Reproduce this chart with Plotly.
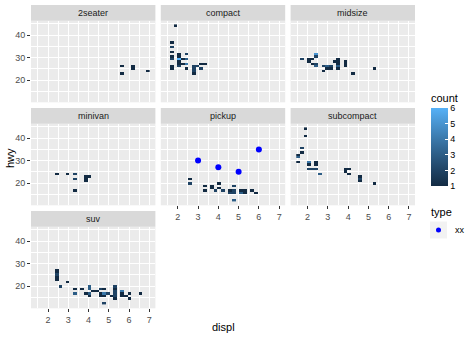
import numpy as np
import plotly.graph_objects as go

# ---------------- data (mpg: displ / hwy by class) ----------------
classes = ["2seater", "compact", "midsize", "minivan", "pickup", "subcompact", "suv"]

displ_2seater = [5.7, 5.7, 6.2, 6.2, 7.0]
hwy_2seater = [26, 23, 26, 25, 24]

displ_compact = [1.8, 1.8, 2.0, 2.0, 2.8, 2.8, 3.1,
                 1.8, 1.8, 2.0, 2.0, 2.8, 2.8, 3.1, 3.1,
                 2.4, 2.4,
                 2.5, 2.5, 2.5, 2.5,
                 2.2, 2.2, 2.4, 2.4, 3.0, 3.0, 3.3,
                 1.8, 1.8, 1.8, 1.8, 1.8,
                 2.0, 2.0, 2.0, 2.0, 2.8,
                 1.9, 2.0, 2.0, 2.0, 2.0, 2.5, 2.5, 2.8, 2.8]
hwy_compact = [29, 29, 31, 30, 26, 26, 27,
               26, 25, 28, 27, 25, 25, 25, 25,
               29, 27,
               27, 27, 25, 27,
               27, 29, 31, 31, 26, 26, 27,
               30, 33, 35, 37, 35,
               29, 26, 29, 29, 24,
               44, 29, 26, 29, 29, 29, 29, 23, 24]

displ_midsize = [2.8, 3.1, 4.2,
                 2.4, 2.4, 3.1, 3.5, 3.6,
                 2.4, 2.4, 2.4, 2.4, 2.5, 2.5, 3.3,
                 2.5, 2.5, 3.5, 3.5,
                 3.0, 3.0, 3.5,
                 3.1, 3.8, 3.8, 3.8, 5.3,
                 2.2, 2.2, 2.4, 2.4, 3.0, 3.0, 3.5,
                 1.8, 1.8, 2.0, 2.0, 2.8, 2.8, 3.6]
hwy_midsize = [24, 25, 23,
               27, 30, 26, 29, 26,
               26, 27, 30, 31, 26, 26, 28,
               31, 32, 27, 26,
               26, 25, 25,
               26, 26, 27, 28, 25,
               29, 27, 31, 31, 26, 26, 28,
               29, 29, 28, 29, 26, 26, 26]

displ_minivan = [2.4, 3.0, 3.3, 3.3, 3.3, 3.3, 3.3, 3.8, 3.8, 3.8, 4.0]
hwy_minivan = [24, 24, 22, 22, 24, 24, 17, 22, 21, 23, 23]

displ_pickup = [3.7, 3.7, 3.9, 3.9, 4.7, 4.7, 4.7, 5.2, 5.2,
                4.7, 4.7, 4.7, 4.7, 4.7, 4.7, 5.2, 5.2, 5.7, 5.9,
                4.2, 4.2, 4.6, 4.6, 4.6, 5.4, 5.4,
                2.7, 2.7, 2.7, 3.4, 3.4, 4.0, 4.0]
hwy_pickup = [19, 18, 17, 17, 19, 19, 12, 17, 15,
              16, 12, 17, 17, 16, 12, 15, 16, 17, 15,
              17, 17, 16, 16, 17, 15, 17,
              20, 20, 22, 17, 19, 18, 20]

displ_subcompact = [3.8, 3.8, 4.0, 4.0, 4.6, 4.6, 4.6, 4.6, 5.4,
                    1.6, 1.6, 1.6, 1.6, 1.6, 1.8, 1.8, 1.8, 2.0,
                    2.0, 2.0, 2.0, 2.0, 2.7, 2.7, 2.7,
                    2.2, 2.2, 2.5, 2.5,
                    1.9, 1.9, 2.0, 2.0, 2.5, 2.5]
hwy_subcompact = [26, 25, 26, 24, 21, 22, 23, 22, 20,
                  33, 32, 32, 29, 32, 34, 36, 36, 29,
                  26, 29, 28, 29, 24, 24, 24,
                  26, 26, 26, 26,
                  44, 41, 29, 26, 28, 29]

displ_suv = [5.3, 5.3, 5.3, 5.7, 6.0,
             5.3, 5.3, 5.7, 6.5,
             3.9, 4.7, 4.7, 4.7, 5.2, 5.7, 5.9,
             4.6, 5.4, 5.4,
             4.0, 4.0, 4.0, 4.0, 4.6, 5.0,
             3.0, 3.7, 4.0, 4.7, 4.7, 4.7, 5.7, 6.1,
             4.0, 4.2, 4.4, 4.6,
             5.4, 5.4, 5.4,
             4.0, 4.0, 4.6, 5.0,
             3.3, 3.3, 4.0, 5.6,
             2.5, 2.5, 2.5, 2.5, 2.5, 2.5,
             2.7, 2.7, 3.4, 3.4, 4.0, 4.7,
             4.7, 5.7]
hwy_suv = [20, 15, 20, 17, 17,
           19, 14, 15, 17,
           17, 17, 12, 17, 16, 18, 15,
           17, 17, 18,
           17, 19, 17, 19, 19, 17,
           22, 19, 20, 17, 12, 19, 18, 14,
           15, 18, 18, 15,
           17, 16, 18,
           17, 19, 19, 17,
           17, 17, 20, 18,
           25, 24, 27, 25, 26, 23,
           20, 20, 19, 17, 20, 17,
           15, 18]

# extra points layer (type = "xx") shown in the pickup facet
xx_displ = [3, 4, 5, 6]
xx_hwy = [30, 27, 25, 35]
type_labels = ["xx"]

count_ticks = [1, 2, 3, 4, 5, 6]
x_ticks = [2, 3, 4, 5, 6, 7]
y_ticks = [20, 30, 40]

displ_data = [displ_2seater, displ_compact, displ_midsize, displ_minivan,
              displ_pickup, displ_subcompact, displ_suv]
hwy_data = [hwy_2seater, hwy_compact, hwy_midsize, hwy_minivan,
            hwy_pickup, hwy_subcompact, hwy_suv]

# ---------------- binning like ggplot2 stat_bin_2d (bins = 30) ----------------
all_x = np.concatenate([np.array(d, float) for d in displ_data])
all_y = np.concatenate([np.array(d, float) for d in hwy_data])


def breaks(v, bins=30):
    lo, hi = v.min(), v.max()
    bw = (hi - lo) / bins
    origin = np.floor(lo / bw) * bw
    n = int(np.floor((hi + bw - origin) / bw + 1e-9))
    b = origin + bw * np.arange(n + 1)
    fuzz = 1e-8 * bw
    adj = b + np.r_[-fuzz, np.full(len(b) - 1, fuzz)]
    return b, adj


xb, xb_adj = breaks(all_x)
yb, yb_adj = breaks(all_y)
nx, ny = len(xb) - 1, len(yb) - 1


def bin_counts(xs, ys):
    xs = np.asarray(xs, float)
    ys = np.asarray(ys, float)
    ix = np.searchsorted(xb_adj, xs, side="left") - 1
    iy = np.searchsorted(yb_adj, ys, side="left") - 1
    ix = np.clip(ix, 0, nx - 1)
    iy = np.clip(iy, 0, ny - 1)
    z = np.zeros((ny, nx))
    for a, b in zip(ix, iy):
        z[b, a] += 1
    return z


counts = [bin_counts(x, y) for x, y in zip(displ_data, hwy_data)]
occ_x, occ_y = [], []
for z in counts:
    r, c = np.nonzero(z)
    occ_x += list(xb[c]) + list(xb[c + 1])
    occ_y += list(yb[r]) + list(yb[r + 1])
xmin, xmax = min(occ_x), max(occ_x)
ymin, ymax = min(occ_y), max(occ_y)
xr = [xmin - 0.05 * (xmax - xmin), xmax + 0.05 * (xmax - xmin)]
yr = [ymin - 0.05 * (ymax - ymin), ymax + 0.05 * (ymax - ymin)]
zmax = max(z.max() for z in counts)
zmin = min(z[z > 0].min() for z in counts)


# ---------------- ggplot default gradient (Lab interpolation) ----------------
def hex_to_lab(h):
    rgb = [int(h[i:i + 2], 16) / 255 for i in (1, 3, 5)]
    lin = [c / 12.92 if c <= 0.04045 else ((c + 0.055) / 1.055) ** 2.4 for c in rgb]
    r, g, b = lin
    X = 0.4124 * r + 0.3576 * g + 0.1805 * b
    Y = 0.2126 * r + 0.7152 * g + 0.0722 * b
    Z = 0.0193 * r + 0.1192 * g + 0.9505 * b
    f = lambda t: t ** (1 / 3) if t > 0.008856 else 7.787 * t + 16 / 116
    fx, fy, fz = f(X / 0.95047), f(Y), f(Z / 1.08883)
    return 116 * fy - 16, 500 * (fx - fy), 200 * (fy - fz)


def lab_to_hex(L, a, b):
    fy = (L + 16) / 116
    fx = fy + a / 500
    fz = fy - b / 200
    finv = lambda t: t ** 3 if t ** 3 > 0.008856 else (t - 16 / 116) / 7.787
    X, Y, Z = 0.95047 * finv(fx), finv(fy), 1.08883 * finv(fz)
    r = 3.2406 * X - 1.5372 * Y - 0.4986 * Z
    g = -0.9689 * X + 1.8758 * Y + 0.0415 * Z
    bb = 0.0557 * X - 0.2040 * Y + 1.0570 * Z
    out = []
    for c in (r, g, bb):
        c = 12.92 * c if c <= 0.0031308 else 1.055 * c ** (1 / 2.4) - 0.055
        out.append(int(round(min(max(c, 0), 1) * 255)))
    return "#%02X%02X%02X" % tuple(out)


lo_lab, hi_lab = hex_to_lab("#132B43"), hex_to_lab("#56B1F7")
cscale = []
for t in np.linspace(0, 1, 11):
    lab = [lo_lab[k] + t * (hi_lab[k] - lo_lab[k]) for k in range(3)]
    cscale.append([float(t), lab_to_hex(*lab)])

# ---------------- layout geometry (pixels) ----------------
W, H = 474, 338
col_left = [31.0, 160.8, 290.6]
panel_w = 124.4
strip_top = [5.0, 108.0, 211.0]
strip_h = 15.7
panel_h = 81.6

FONT = "Liberation Sans, Arial, sans-serif"
fig = go.Figure()
layout = dict(
    width=W, height=H,
    margin=dict(l=0, r=0, t=0, b=0, autoexpand=False),
    paper_bgcolor="white", plot_bgcolor="#EBEBEB",
    font=dict(family=FONT, size=9, color="#4D4D4D"),
    showlegend=False,
)
shapes, annotations = [], []
bottom_idx = {0: 6, 1: 4, 2: 5}

for i, cls in enumerate(classes):
    row, col = divmod(i, 3)
    L = col_left[col]
    st = strip_top[row]
    pt = st + strip_h
    pb = pt + panel_h
    xa = "xaxis" if i == 0 else f"xaxis{i + 1}"
    ya = "yaxis" if i == 0 else f"yaxis{i + 1}"
    xs = "x" if i == 0 else f"x{i + 1}"
    ys = "y" if i == 0 else f"y{i + 1}"
    show_x = bottom_idx[col] == i
    show_y = col == 0
    layout[xa] = dict(
        domain=[L / W, (L + panel_w) / W], anchor=ys, range=xr,
        tickvals=x_ticks, showticklabels=show_x,
        ticks="outside" if show_x else "", ticklen=3, tickwidth=1, tickcolor="#333333",
        showgrid=True, gridcolor="white", gridwidth=1, zeroline=False, showline=False,
        minor=dict(dtick=0.5, tick0=1.5, showgrid=True, gridcolor="white", gridwidth=0.5),
        tickfont=dict(size=9, color="#4D4D4D"), fixedrange=True,
    )
    layout[ya] = dict(
        domain=[1 - pb / H, 1 - pt / H], anchor=xs, range=yr,
        tickvals=y_ticks, showticklabels=show_y,
        ticks="outside" if show_y else "", ticklen=3, tickwidth=1, tickcolor="#333333",
        showgrid=True, gridcolor="white", gridwidth=1, zeroline=False, showline=False,
        minor=dict(dtick=5, tick0=15, showgrid=True, gridcolor="white", gridwidth=0.5),
        tickfont=dict(size=9, color="#4D4D4D"), fixedrange=True,
    )
    shapes.append(dict(type="rect", xref="paper", yref="paper",
                       x0=L / W, x1=(L + panel_w) / W,
                       y0=1 - pt / H, y1=1 - st / H,
                       fillcolor="#D9D9D9", line=dict(width=0), layer="above"))
    annotations.append(dict(text=cls, xref="paper", yref="paper",
                            x=(L + panel_w / 2) / W, y=1 - (st + strip_h / 2) / H,
                            xanchor="center", yanchor="middle", showarrow=False,
                            font=dict(size=9, color="#1A1A1A")))
    z = counts[i]
    zz = [[(float(v) if v > 0 else None) for v in rowv] for rowv in z]
    fig.add_trace(go.Heatmap(
        x=list(xb), y=list(yb), z=zz, coloraxis="coloraxis",
        xaxis=xs, yaxis=ys, showlegend=False, hoverinfo="skip",
        xgap=0, ygap=0,
    ))

# points of type "xx" in the pickup facet
pick = classes.index("pickup")
fig.add_trace(go.Scatter(
    x=xx_displ, y=xx_hwy, mode="markers", name=type_labels[0],
    marker=dict(color="blue", size=6),
    xaxis=f"x{pick + 1}", yaxis=f"y{pick + 1}", showlegend=False,
))

# axis titles
annotations.append(dict(text="hwy", xref="paper", yref="paper", x=10 / W, y=1 - 158 / H,
                        textangle=-90, showarrow=False, xanchor="center", yanchor="middle",
                        font=dict(size=11, color="black")))
annotations.append(dict(text="displ", xref="paper", yref="paper", x=223 / W, y=1 - 327 / H,
                        showarrow=False, xanchor="center", yanchor="middle",
                        font=dict(size=11, color="black")))

# "type" legend (ggplot style: title, grey key, blue dot, label)
annotations.append(dict(text="type", xref="paper", yref="paper", x=429 / W, y=1 - 212 / H,
                        showarrow=False, xanchor="left", yanchor="middle",
                        font=dict(size=11, color="black")))
shapes.append(dict(type="rect", xref="paper", yref="paper",
                   x0=430 / W, x1=447 / W, y0=1 - 238.5 / H, y1=1 - 221.5 / H,
                   fillcolor="#F2F2F2", line=dict(width=0), layer="above"))
shapes.append(dict(type="circle", xref="paper", yref="paper",
                   x0=436 / W, x1=441 / W, y0=1 - 232.5 / H, y1=1 - 227.5 / H,
                   fillcolor="blue", line=dict(width=0), layer="above"))
annotations.append(dict(text=type_labels[0], xref="paper", yref="paper", x=453 / W, y=1 - 230 / H,
                        showarrow=False, xanchor="left", yanchor="middle",
                        font=dict(size=9, color="black")))

layout["shapes"] = shapes
layout["annotations"] = annotations
layout["coloraxis"] = dict(
    colorscale=cscale, cmin=zmin, cmax=zmax,
    colorbar=dict(
        title=dict(text="count", side="top", font=dict(size=11, color="black")),
        x=431 / W, xanchor="left", y=1 - 91 / H, yanchor="top",
        len=95, lenmode="pixels", thickness=17, thicknessmode="pixels",
        xpad=0, ypad=0, outlinewidth=0,
        tickvals=count_ticks, ticks="inside", tickcolor="white", ticklen=3,
        tickfont=dict(size=9, color="black"),
    ),
)
fig.update_layout(**layout)
fig.write_html("out.html", config={"displayModeBar": False})
